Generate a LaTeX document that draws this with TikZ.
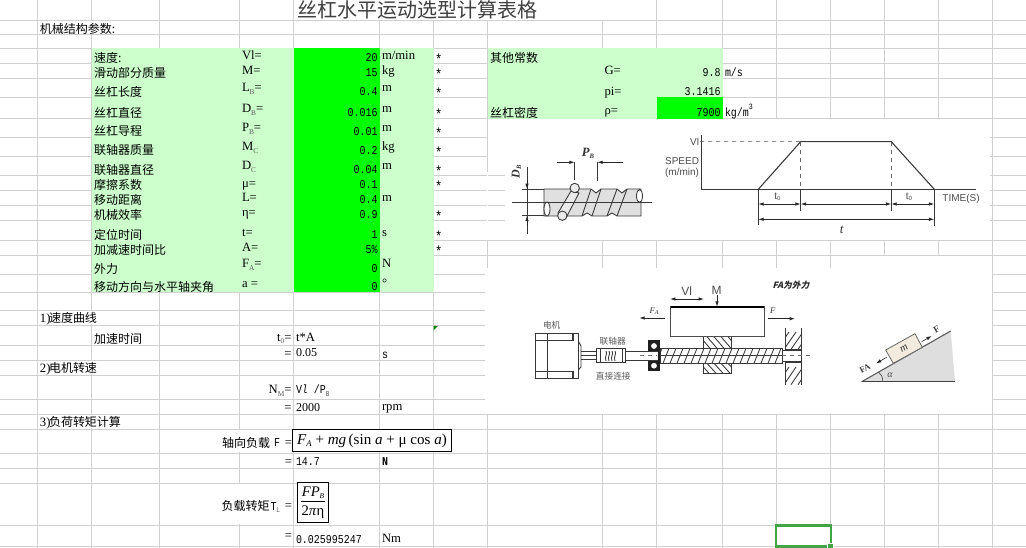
\documentclass[tikz,border=0pt]{standalone}
\usepackage{fontspec}
\usetikzlibrary{arrows.meta}
\setmainfont{Liberation Serif}
\setsansfont{Liberation Sans}
\setmonofont[FakeStretch=0.83]{Liberation Mono}
\newfontfamily\cjkfont{Noto Sans CJK SC}
\definecolor{gridgray}{RGB}{208,208,208}
\definecolor{palegreen}{RGB}{204,255,204}
\definecolor{puregreen}{RGB}{0,255,0}
\definecolor{selgreen}{RGB}{65,165,70}
\definecolor{blockcream}{RGB}{243,236,222}
\newcommand{\subtxt}[1]{\raisebox{-0.35ex}{\fontsize{5.5}{6}\selectfont\color{black!65}#1}}
\tikzset{
  textcell/.style={inner sep=0pt, outer sep=0pt},
  cjklabel/.style={textcell, anchor=base west, font=\cjkfont\fontsize{9}{9}\selectfont},
  cjkright/.style={textcell, anchor=base east, font=\cjkfont\fontsize{9}{9}\selectfont},
  symtext/.style={textcell, anchor=base west, font=\fontsize{9.5}{10}\selectfont},
  symright/.style={textcell, anchor=base east, font=\fontsize{9.5}{10}\selectfont},
  numtext/.style={textcell, anchor=base east, font=\ttfamily\fontsize{9}{9}\selectfont},
  monotext/.style={textcell, anchor=base west, font=\ttfamily\fontsize{9}{9}\selectfont},
  starmark/.style={textcell, anchor=base, font=\ttfamily\fontsize{11}{11}\selectfont},
  photolabel/.style={textcell, font=\sffamily\fontsize{7.5}{9}\selectfont, text=black!70},
  photocjk/.style={textcell, font=\cjkfont\fontsize{6.5}{7}\selectfont, text=black!65},
  gridline/.style={draw=gridgray, line width=0.75pt},
  gridgap/.style={draw=white, line width=1.2pt},
  photoline/.style={draw=black!78, line width=0.65pt},
  dimline/.style={{Latex[length=4pt,width=2.6pt]}-{Latex[length=4pt,width=2.6pt]}, draw=black!85, line width=0.6pt},
  oneway/.style={-{Latex[length=4pt,width=2.6pt]}, draw=black!85, line width=0.6pt}
}
\newcommand{\paramrow}[7]{
  % id, value baseline, symbol baseline, label, symbol, value, unit
  \node[cjklabel] (lab#1) at (94, #2+0.5) {#4};
  \node[symtext] (sym#1) at (242, #3) {#5};
  \node[numtext] (val#1) at (377.5, #2) {#6};
  \node[symtext] (unit#1) at (382, #3) {#7};
}
\begin{document}
\begin{tikzpicture}[x=0.75pt, y=-0.75pt]
\useasboundingbox (0, 0) rectangle (1026, 548);
\fill[white] (0, 0) rectangle (1026, 548);

% sheet grid
\foreach \gx in {37.5, 91.5, 159.5, 239.5, 293.5, 379.5, 433.5, 487.5, 602.5, 656.5, 722.5, 776.5, 830.5, 884.5, 938.5, 992.5}
  \draw[gridline] (\gx, 0) -- (\gx, 548);
\foreach \gy in {20.5, 34.5, 48.5, 63.5, 78.5, 97.5, 118.5, 137.5, 156.5, 175.5, 190.5, 205.5, 220.5, 240.5, 255.5, 274.5, 292.5, 310.5, 325.5, 345.5, 360.5, 375.5, 399.5, 414.5, 429.5, 453.5, 468.5, 483.5, 525.5, 546.5}
  \draw[gridline] (0, \gy) -- (1026, \gy);

% overflowing text hides cell borders
\fill[white] (294.5, 0) rectangle (655.5, 20);
\draw[gridgap] (91.5, 21.5) -- (91.5, 33.5);
\draw[gridgap] (91.5, 311.5) -- (91.5, 324.5);
\draw[gridgap] (91.5, 361.5) -- (91.5, 374.5);
\draw[gridgap] (91.5, 415.5) -- (91.5, 428.5);
\draw[gridgap] (239.5, 430.5) -- (239.5, 452.5);
\draw[gridgap] (239.5, 484.5) -- (239.5, 524.5);

% green blocks
\fill[palegreen] (91.5, 48) rectangle (433.5, 292.5);
\fill[puregreen] (293.5, 48) rectangle (379.5, 292.5);
\fill[palegreen] (487.5, 48) rectangle (722.5, 119);
\fill[puregreen] (656.5, 97.5) rectangle (722.5, 119);

% pictures lie on the sheet
\fill[white] (488.2, 119) rectangle (989.5, 172);
\fill[white] (505, 172) rectangle (989.5, 240);
\draw[gridgap] (487.5, 172) -- (487.5, 240);
\fill[white] (485, 268) rectangle (858, 414);
\fill[white] (858, 256) rectangle (992, 414);

\node[textcell, font=\cjkfont\fontsize{15}{15}\selectfont, text=black!75] (title) at (417.5, 10) {丝杠水平运动选型计算表格};
\node[cjklabel] (mechhead) at (40, 33.5) {机械结构参数:};

\paramrow{speed}{62}{60}{速度:}{Vl=}{20}{m/min}
\paramrow{mass}{77}{75}{滑动部分质量}{M=}{15}{kg}
\paramrow{len}{96}{92}{丝杠长度}{L\subtxt{B}=}{0.4}{m}
\paramrow{dia}{117}{113}{丝杠直径}{D\subtxt{B}=}{0.016}{m}
\paramrow{lead}{135.5}{132}{丝杠导程}{P\subtxt{B}=}{0.01}{m}
\paramrow{cmass}{154.5}{151}{联轴器质量}{M\subtxt{C}}{0.2}{kg}
\paramrow{cdia}{174}{170}{联轴器直径}{D\subtxt{C}}{0.04}{m}
\paramrow{fric}{189}{188}{摩擦系数}{μ=}{0.1}{}
\paramrow{dist}{204}{201.5}{移动距离}{L=}{0.4}{m}
\paramrow{eff}{219}{217}{机械效率}{η=}{0.9}{}
\paramrow{time}{239}{236.5}{定位时间}{t=}{1}{s}
\paramrow{ratio}{254}{251.5}{加减速时间比}{A=}{5\%}{}
\paramrow{ext}{273}{268}{外力}{F\subtxt{A}=}{0}{N}
\paramrow{ang}{291}{288}{移动方向与水平轴夹角}{a =}{0}{°}

\foreach \sy [count=\si] in {64.5, 79.5, 98.5, 119.5, 138.5, 157.5, 176.5, 191.5, 221.5, 241.5, 256.5}
  \node[starmark] (star\si) at (438.7, \sy) {*};

% constants
\node[cjklabel] (othhead) at (490, 62.5) {其他常数};
\node[symtext] (symg) at (604.5, 75) {G=};
\node[numtext] (valg) at (720.5, 77) {9.8};
\node[monotext] (unitg) at (725, 77) {m/s};
\node[symtext] (sympi) at (604.5, 96) {pi=};
\node[numtext] (valpi) at (720.5, 96) {3.1416};
\node[cjklabel] (rhohead) at (490, 117.5) {丝杠密度};
\node[symtext] (symrho) at (604.5, 115) {ρ=};
\node[numtext] (valrho) at (720.5, 117) {7900};
\node[monotext] (unitrho) at (725, 117) {kg/m\raisebox{1.2ex}{\fontsize{6}{6}\selectfont 3}};

% calculation part
\node[symtext] (oneno) at (40, 322.5) {1)};
\node[cjklabel] (onehead) at (49, 323) {速度曲线};
\node[cjklabel] (acchead) at (94, 344) {加速时间};
\node[symright] (tzero) at (291.5, 341.5) {t\subtxt{0}=};
\node[symtext] (tform) at (296, 341.5) {t*A};
\node[symright] (eqa) at (291.5, 358) {=};
\node[symtext, font=\fontsize{9}{10}\selectfont] (tval) at (296, 356.5) {0.05};
\node[monotext] (tunit) at (382, 359) {s};
\node[symtext] (twono) at (40, 372.5) {2)};
\node[cjklabel] (twohead) at (49, 373) {电机转速};
\node[symright] (nm) at (291.5, 394) {N\subtxt{M}=};
\node[monotext] (nform) at (296, 394) {V\textit{l} /P\subtxt{B}};
\node[symright] (eqb) at (291.5, 412) {=};
\node[symtext, font=\fontsize{9}{10}\selectfont] (nval) at (296, 412) {2000};
\node[symtext] (nunit) at (382, 410.5) {rpm};
\node[symtext] (threeno) at (40, 426.5) {3)};
\node[cjklabel] (threehead) at (49, 427) {负荷转矩计算};
\node[cjkright] (axial) at (270, 447.5) {轴向负载};
\node[monotext] (axialf) at (274, 447) {F};
\node[symright] (eqc) at (292, 447) {=};
\node[draw, fill=white, line width=0.75pt, minimum width=119.5pt, minimum height=16.5pt, inner sep=0pt, font=\fontsize{11.3}{12}\selectfont] (axialbox) at (372, 440.5) {\textit{F}\raisebox{-0.3ex}{\fontsize{6.5}{7}\selectfont\textit{A}} + \textit{mg}\,(sin \textit{a} + μ cos \textit{a})};
\node[symright] (eqd) at (292, 466) {=};
\node[monotext] (axialval) at (296, 466) {14.7};
\node[monotext, font=\ttfamily\bfseries\fontsize{9}{9}\selectfont] (axialunit) at (382, 466) {N};
\node[cjkright] (torque) at (269.5, 511) {负载转矩};
\node[monotext] (torquet) at (270.5, 510.5) {T\subtxt{L}};
\node[symright] (eqe) at (292, 509.5) {=};
\node[draw, fill=white, line width=0.75pt, minimum width=23.5pt, minimum height=30pt] (torquebox) at (313, 502.3) {};
\node[textcell, anchor=base, font=\fontsize{11}{11}\selectfont] (torquetop) at (313, 496.5) {\textit{FP}\raisebox{-0.3ex}{\fontsize{5.5}{6}\selectfont\textit{B}}};
\draw[line width=0.6pt] (301, 501.5) -- (324.7, 501.5);
\node[textcell, anchor=base, font=\fontsize{11}{11}\selectfont] (torquebot) at (313, 516) {2\textit{π}η};
\node[symright] (eqf) at (292, 539.5) {=};
\node[monotext] (torqueval) at (296, 544) {0.025995247};
\node[symtext] (torqueunit) at (382, 542.5) {Nm};

% cell comment mark
\fill[green!50!black] (433.5, 326) -- (438, 326) -- (433.5, 330.5) -- cycle;

% selected cell
\draw[selgreen, line width=1.6pt] (776, 525.5) rectangle (831, 546.5);
\fill[white] (827, 543) rectangle (834, 549);
\fill[selgreen] (828, 544) rectangle (833, 549);

% ball screw sketch
\draw[photoline, fill=black!12] (544, 189) -- (591, 189) -- (596, 193) -- (601, 189) -- (617, 189) -- (622, 193) -- (627, 189) -- (641, 189) -- (641, 216) -- (617, 216) -- (612, 213) -- (607, 216) -- (592, 216) -- (587, 213) -- (582, 216) -- (544, 216) -- cycle;
\draw[photoline] (591, 189) -- (582, 216);
\draw[photoline] (601, 189) -- (592, 216);
\draw[photoline] (617, 189) -- (607, 216);
\draw[photoline] (627, 189) -- (617, 216);
\draw[photoline, fill=white] (547, 209) ellipse [x radius=3, y radius=7];
\draw[photoline, fill=white] (639.5, 196) ellipse [x radius=3, y radius=6.5];
\draw[photoline, fill=black!8] (571, 191) -- (558, 213) -- (566, 218) -- (579, 193) -- cycle;
\draw[photoline, fill=black!8] (574.7, 188) circle (4.7);
\draw[photoline, fill=black!8] (562.3, 215.7) circle (4.7);
\draw[photoline] (512.3, 202.3) -- (651.7, 202.3);
\draw[photoline] (521.7, 189) -- (544, 189);
\draw[photoline] (522.3, 215.7) -- (544, 215.7);
\draw[photoline] (527, 167.3) -- (527, 234.3);
\draw[oneway] (527, 180) -- (527, 189);
\draw[oneway] (527, 225) -- (527, 215.7);
\node[textcell, rotate=90, font=\bfseries\itshape\fontsize{9}{9}\selectfont, text=black!80] (dblabel) at (516.5, 172) {D\raisebox{-0.3ex}{\fontsize{5}{5}\selectfont B}};
\draw[photoline] (574.7, 162.3) -- (574.7, 180);
\draw[photoline] (597.3, 162.3) -- (597.3, 180.7);
\draw[oneway] (556.7, 162.3) -- (574.7, 162.3);
\draw[oneway] (622.7, 162.3) -- (597.3, 162.3);
\node[textcell, font=\bfseries\itshape\fontsize{9.5}{9.5}\selectfont, text=black!80] (pblabel) at (588, 153.5) {P\raisebox{-0.3ex}{\fontsize{5}{5}\selectfont B}};

% speed curve
\draw[photoline, black!45, dashed, line width=0.5pt] (700, 141.7) -- (800.7, 141.7);
\draw[photoline] (701.7, 135) -- (701.7, 189.3) -- (975.7, 189.3);
\draw[photoline, line width=0.8pt] (758.3, 189.3) -- (800.7, 141.7) -- (891.3, 141.7) -- (934.3, 189.3);
\draw[photoline, dashed, black!60, line width=0.5pt] (800.7, 141.7) -- (800.7, 189.3);
\draw[photoline, dashed, black!60, line width=0.5pt] (891.3, 141.7) -- (891.3, 189.3);
\draw[photoline] (800.7, 189.3) -- (800.7, 211);
\draw[photoline] (891.3, 189.3) -- (891.3, 211);
\draw[photoline] (758.3, 189.3) -- (758.3, 225);
\draw[photoline] (934.3, 189.3) -- (934.3, 226);
\draw[dimline] (758.3, 204) -- (800.7, 204);
\draw[dimline] (800.7, 204) -- (891.3, 204);
\draw[dimline] (891.3, 204) -- (934.3, 204);
\draw[dimline] (758.3, 219.3) -- (934.3, 219.3);
\node[photolabel, anchor=east] (vlabel) at (699, 142.3) {Vl};
\node[photolabel, anchor=east] (speedlabel) at (699, 160.7) {SPEED};
\node[photolabel, anchor=east] (unitlabel) at (699, 172.7) {(m/min)};
\node[photolabel] (taccel) at (777.5, 197) {t\raisebox{-0.2ex}{\fontsize{4.5}{5}\selectfont 0}};
\node[photolabel] (tdecel) at (909, 197) {t\raisebox{-0.2ex}{\fontsize{4.5}{5}\selectfont 0}};
\node[photolabel] (timelabel) at (961, 198.5) {TIME(S)};
\node[textcell, font=\itshape\fontsize{10}{10}\selectfont, text=black!80] (ttotal) at (841.7, 229.5) {t};

% drive sketch: motor and coupling
\draw[photoline] (535, 333.3) rectangle (578.3, 378.7);
\draw[photoline] (535, 340.7) -- (572.7, 340.7);
\draw[photoline] (535, 371.7) -- (572.7, 371.7);
\draw[photoline] (547.7, 333.3) -- (547.7, 378.7);
\draw[photoline, line width=0.8pt] (573, 333.3) -- (573, 341);
\draw[photoline, line width=0.8pt] (573, 371) -- (573, 378.7);
\draw[photoline] (578.3, 341) -- (581, 346) -- (581, 367) -- (578.3, 370);
\draw[photoline] (581, 351.7) -- (596.7, 351.7);
\draw[photoline] (581, 355.7) -- (596.7, 355.7);
\draw[photoline] (581, 359.7) -- (596.7, 359.7);
\draw[photoline, line width=0.7pt] (596.7, 348.3) rectangle (625.7, 362.7);
\draw[photoline] (600, 348.3) -- (600, 362.7);
\draw[photoline] (622, 348.3) -- (622, 362.7);
\foreach \cx in {606, 609, 612, 615}
  \draw[photoline] (\cx, 351) .. controls (\cx+2, 354) and (\cx-2, 357) .. (\cx, 361);
\draw[photoline] (625.7, 351) -- (647.7, 351);
\draw[photoline] (625.7, 360) -- (647.7, 360);

% drive sketch: lead screw and nut
\begin{scope}
\clip (660.3, 348.3) rectangle (782.3, 363.3);
\foreach \hx in {662, 669, ..., 795}
  \draw[photoline] (\hx-6, 363.3) -- (\hx, 348.3);
\end{scope}
\draw[photoline, line width=0.7pt] (660.3, 348.3) rectangle (782.3, 363.3);
\draw[photoline] (660.3, 355.7) -- (782.3, 355.7);
\begin{scope}
\clip (703.3, 336.7) rectangle (731.7, 348.3);
\foreach \hx in {700, 707, ..., 745}
  \draw[photoline] (\hx, 336.7) -- (\hx+10, 348.3);
\end{scope}
\draw[photoline, line width=0.7pt] (703.3, 336.7) rectangle (731.7, 348.3);
\begin{scope}
\clip (703.3, 363.3) rectangle (731.7, 373.3);
\foreach \hx in {700, 707, ..., 745}
  \draw[photoline] (\hx, 363.3) -- (\hx+9, 373.3);
\end{scope}
\draw[photoline, line width=0.7pt] (703.3, 363.3) rectangle (731.7, 373.3);
\draw[black!70, line width=0.8pt] (670.7, 307) rectangle (764.3, 336.7);
\draw[black, line width=0.9pt] (670.7, 307) -- (764.3, 307);

% drive sketch: bearing block
\fill[black!88] (647.7, 340.3) rectangle (660.3, 371);
\fill[white] (654, 346) circle (2.9);
\fill[white] (654, 365.7) circle (2.9);
\fill[white] (645, 351.7) rectangle (657.5, 360);
\draw[photoline] (647.7, 351) -- (657.5, 351);
\draw[photoline] (647.7, 360) -- (657.5, 360);
\draw[dashed, black!55, line width=0.5pt] (640, 355.7) -- (657, 355.7);

% drive sketch: end wall
\begin{scope}
\clip (785, 327.7) rectangle (801.7, 349.3);
\foreach \hx in {785, 792, ..., 825}
  \draw[photoline] (\hx-8, 349.3) -- (\hx+4, 332);
\end{scope}
\begin{scope}
\clip (785, 362.7) rectangle (801.7, 384.7);
\foreach \hx in {785, 792, ..., 825}
  \draw[photoline] (\hx-8, 384.7) -- (\hx+4, 367);
\end{scope}
\draw[photoline] (785, 327.7) -- (785, 349.3) -- (801.7, 349.3) -- (801.7, 327.7);
\draw[photoline] (785, 384.7) -- (785, 362.7) -- (801.7, 362.7) -- (801.7, 384.7);
\draw[photoline, fill=white] (782.3, 350.7) rectangle (801.7, 361);
\draw[dashed, black!60, line width=0.5pt] (782.3, 355.7) -- (810, 355.7);

% drive sketch: arrows and labels
\coordinate (fastart) at (665, 318);
\coordinate (faend) at (639.3, 318);
\coordinate (fstart) at (768.3, 318.7);
\coordinate (fend) at (795, 318.7);
\draw[oneway] (fastart) -- (faend);
\draw[oneway] (fstart) -- (fend);
\draw[dimline] (670, 299) -- (704, 299);
\draw[oneway] (717, 295) -- (717, 306.7);
\node[textcell, font=\itshape\fontsize{6.5}{7}\selectfont, text=black!80] (falabel) at (654, 311.5) {F\raisebox{-0.3ex}{\fontsize{4.5}{5}\selectfont A}};
\node[textcell, font=\itshape\fontsize{6.5}{7}\selectfont, text=black!80] (flabel) at (772.7, 310.7) {F};
\node[photolabel, font=\sffamily\fontsize{9}{9}\selectfont] (vllabel) at (686.7, 290.7) {Vl};
\node[photolabel, font=\sffamily\fontsize{9}{9}\selectfont] (mlabel) at (716.7, 290) {M};
\node[photocjk, xslant=0.25, text=black!85, font=\cjkfont\bfseries\fontsize{6.5}{7}\selectfont] (fanote) at (791.7, 285) {FA为外力};
\node[photocjk] (motorlabel) at (551.7, 325) {电机};
\node[photocjk] (couplabel) at (612.7, 341) {联轴器};
\node[photocjk] (directlabel) at (613.3, 376.3) {直接连接};

% slope sketch
\fill[black!13] (861.7, 381.7) -- (950.7, 331) -- (955, 381.7) -- cycle;
\draw[black!65, line width=0.8pt] (861.7, 381.7) -- (950.7, 331);
\draw[black!75, line width=1pt] (861.7, 381.7) -- (955, 381.7);
\draw[black!60, line width=0.6pt, fill=blockcream] (885.7, 350) -- (915, 333.7) -- (922.3, 347.3) -- (893.3, 363.3) -- cycle;
\node[textcell, rotate=29, font=\itshape\fontsize{8}{8}\selectfont, text=black!80] (mblock) at (904, 348.5) {m};
\draw[oneway, line width=0.45pt] (921.7, 341.7) -- (931.7, 336);
\draw[oneway, line width=0.45pt] (886.7, 357.3) -- (876, 363.4);
\node[textcell, rotate=29, font=\bfseries\fontsize{7}{7}\selectfont, text=black!75] (fslope) at (936.7, 329) {F};
\node[textcell, rotate=29, font=\bfseries\fontsize{6.5}{7}\selectfont, text=black!75] (faslope) at (865, 368.3) {FA};
\draw[black!70, line width=0.5pt] (882.7, 381.7) .. controls (883, 377) and (881, 374) .. (878.5, 372);
\node[textcell, font=\itshape\fontsize{7.5}{8}\selectfont, text=black!70] (alpha) at (890, 375) {α};
\end{tikzpicture}
\end{document}
